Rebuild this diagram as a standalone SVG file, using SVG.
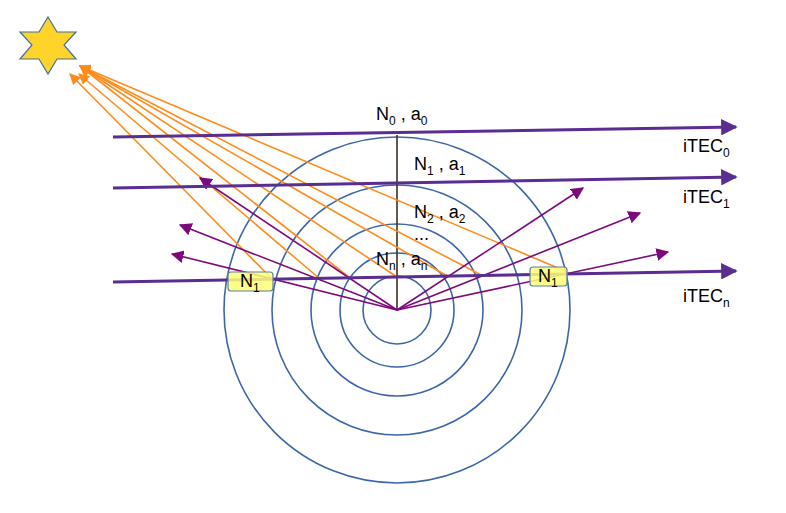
<svg xmlns="http://www.w3.org/2000/svg" width="786" height="513" viewBox="0 0 786 513">
<style>
text{font-family:"Liberation Sans",Arial,sans-serif;font-size:18px;fill:#000}
.s{font-size:12px}
.c{fill:none;stroke:#3d66a8;stroke-width:1.6}
.t{stroke:#5a2d91;stroke-width:3;fill:none}
.o{stroke:#ff8c1a;stroke-width:1.6;fill:none}
.p{stroke:#7c0a7c;stroke-width:1.6;fill:none}
.b{fill:#ffff77;stroke:#5b7fa6;stroke-width:1.2}
</style>
<defs>
<marker id="mt" viewBox="0 0 10 10" refX="9" refY="5" markerWidth="5.5" markerHeight="5.5" orient="auto" markerUnits="strokeWidth"><path d="M0,0L10,5L0,10z" fill="#5a2d91"/></marker>
<marker id="mo" viewBox="0 0 10 10" refX="9" refY="5" markerWidth="7" markerHeight="7" orient="auto" markerUnits="strokeWidth"><path d="M0,0L10,5L0,10z" fill="#ff8c1a"/></marker>
<marker id="mp" viewBox="0 0 10 10" refX="9" refY="5" markerWidth="8" markerHeight="8" orient="auto" markerUnits="strokeWidth"><path d="M0,0L10,5L0,10z" fill="#7c0a7c"/></marker>
</defs>
<g id="star"><polygon points="48,17 57,32 76,32 64,45 76,59 57,59 48,74 39,59 20,59 32,45 20,32 39,32" fill="#ffd42a" stroke="#41719c" stroke-width="1.2"/></g>
<g id="circles">
<circle class="c" cx="397" cy="310" r="173"/>
<circle class="c" cx="397" cy="310" r="125"/>
<circle class="c" cx="397" cy="310" r="86"/>
<circle class="c" cx="397" cy="310" r="57"/>
<circle class="c" cx="397" cy="310" r="34"/>
</g>
<g id="connectors">
<line x1="397" y1="135" x2="397" y2="310" stroke="#3a3220" stroke-width="1.6"/>
<line class="o" x1="272" y1="279" x2="70" y2="74" marker-end="url(#mo)"/>
<line class="o" x1="320" y1="279" x2="79" y2="74" marker-end="url(#mo)"/>
<line class="o" x1="350" y1="278" x2="80" y2="66" marker-end="url(#mo)"/>
<line class="o" x1="397" y1="277" x2="80" y2="66" marker-end="url(#mo)"/>
<line class="o" x1="449" y1="277" x2="80" y2="66" marker-end="url(#mo)"/>
<line class="o" x1="483" y1="276" x2="80" y2="66" marker-end="url(#mo)"/>
<line class="o" x1="565" y1="271" x2="80" y2="66" marker-end="url(#mo)"/>
<line class="p" x1="397" y1="310" x2="200" y2="178" marker-end="url(#mp)"/>
<line class="p" x1="397" y1="310" x2="180" y2="225" marker-end="url(#mp)"/>
<line class="p" x1="397" y1="310" x2="172" y2="254" marker-end="url(#mp)"/>
<line class="p" x1="397" y1="310" x2="583" y2="188" marker-end="url(#mp)"/>
<line class="p" x1="397" y1="310" x2="640" y2="213" marker-end="url(#mp)"/>
<line class="p" x1="397" y1="310" x2="668" y2="252" marker-end="url(#mp)"/>
<line class="t" x1="113" y1="137" x2="736" y2="127" marker-end="url(#mt)"/>
<line class="t" x1="113" y1="188" x2="736" y2="177" marker-end="url(#mt)"/>
<line class="t" x1="113" y1="282" x2="736" y2="271" marker-end="url(#mt)"/>
</g>
<g id="n1left"><rect class="b" x="228" y="272" width="45" height="19" rx="3" fill-opacity="0.85"/><text x="240" y="287">N<tspan class="s" dy="5">1</tspan></text></g>
<g id="n1right"><rect class="b" x="530" y="267" width="37" height="19" rx="3" fill-opacity="0.85"/><text x="538" y="282">N<tspan class="s" dy="5">1</tspan></text></g>
<g id="labels">
<text x="376" y="120">N<tspan class="s" dy="5">0</tspan><tspan dy="-5"> , a</tspan><tspan class="s" dy="5">0</tspan></text>
<text x="414" y="170">N<tspan class="s" dy="5">1</tspan><tspan dy="-5"> , a</tspan><tspan class="s" dy="5">1</tspan></text>
<text x="414" y="218">N<tspan class="s" dy="5">2</tspan><tspan dy="-5"> , a</tspan><tspan class="s" dy="5">2</tspan></text>
<text x="414" y="240">...</text>
<text x="376" y="265">N<tspan class="s" dy="5">n</tspan><tspan dy="-5"> , a</tspan><tspan class="s" dy="5">n</tspan></text>
<text x="683" y="152">iTEC<tspan class="s" dy="5">0</tspan></text>
<text x="683" y="203">iTEC<tspan class="s" dy="5">1</tspan></text>
<text x="683" y="302">iTEC<tspan class="s" dy="5">n</tspan></text>
</g>
</svg>
